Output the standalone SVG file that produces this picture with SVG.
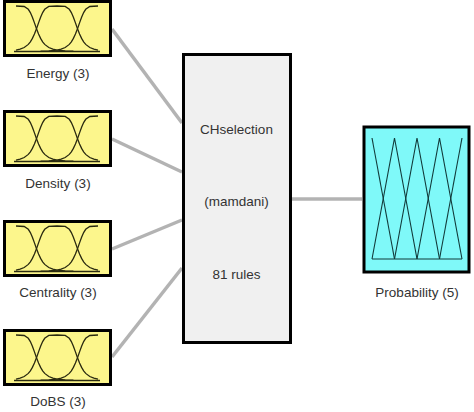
<svg xmlns="http://www.w3.org/2000/svg" width="474" height="412" viewBox="0 0 474 412">
<style>
.box{stroke:#000;stroke-width:3}
.in{fill:#fcf68c}
.mf{fill:none;stroke:#2a2a10;stroke-width:1.3}
.omf{fill:none;stroke:#123a3a;stroke-width:1.1}
.lbl{font-family:"Liberation Sans",Arial,sans-serif;font-size:13.5px;fill:#333;text-anchor:middle}
.conn{stroke:#b3b3b3;stroke-width:3.5;fill:none}
</style>
<defs>
<g id="mf3">
<polyline class="mf" points="16,6 24.2,6.5 28.3,9.3 30.35,12.6 32.4,17.2 34.45,22.9 36.5,28.75 38.55,34.1 40.6,38.4 42.65,41.8 44.7,44.4 48.8,47.5 52.9,49.2 57,50.1 65.2,50.9 73.4,51.2"/>
<polyline class="mf" points="16,50.1 20.1,49.2 24.2,47.5 28.3,44.4 30.35,41.8 32.4,38.4 34.45,34.1 36.5,28.75 38.55,22.9 40.6,17.2 42.65,12.6 44.7,9.3 48.8,6.45 57,6 65.2,6.45 69.3,9.3 71.35,12.6 73.4,17.2 75.45,22.9 77.5,28.75 79.55,34.1 81.6,38.4 83.65,41.8 85.7,44.4 89.8,47.5 93.9,49.2 98,50.1"/>
<polyline class="mf" points="98,6 89.8,6.5 85.7,9.3 83.65,12.6 81.6,17.2 79.55,22.9 77.5,28.75 75.45,34.1 73.4,38.4 71.35,41.8 69.3,44.4 65.2,47.5 61.1,49.2 57,50.1 48.8,50.9 40.6,51.2"/>
<line class="mf" x1="14" y1="51.5" x2="100" y2="51.5"/>
</g>
</defs>
<rect width="474" height="412" fill="#fff"/>
<g id="connectors">
<line class="conn" x1="112" y1="29" x2="182" y2="123"/>
<line class="conn" x1="112" y1="139" x2="182" y2="172"/>
<line class="conn" x1="112" y1="249" x2="182" y2="220"/>
<line class="conn" x1="112" y1="357" x2="182" y2="268"/>
<line class="conn" x1="292" y1="199" x2="362" y2="199"/>
</g>
<g id="energy">
<rect class="box in" x="4.5" y="1.5" width="106" height="54"/>
<use href="#mf3"/>
<text class="lbl" x="58" y="78">Energy (3)</text>
</g>
<g id="density" transform="translate(0,110)">
<rect class="box in" x="4.5" y="1.5" width="106" height="54"/>
<use href="#mf3"/>
<text class="lbl" x="58" y="78">Density (3)</text>
</g>
<g id="centrality" transform="translate(0,220)">
<rect class="box in" x="4.5" y="1.5" width="106" height="54"/>
<use href="#mf3"/>
<text class="lbl" x="58" y="77">Centrality (3)</text>
</g>
<g id="dobs" transform="translate(0,329)">
<rect class="box in" x="4.5" y="1.5" width="106" height="54"/>
<use href="#mf3"/>
<text class="lbl" x="58" y="77">DoBS (3)</text>
</g>
<g id="chselection">
<rect class="box" x="183.5" y="54.5" width="107" height="288" fill="#f0f0f0"/>
<text class="lbl" x="236.5" y="134">CHselection</text>
<text class="lbl" x="236.5" y="206">(mamdani)</text>
<text class="lbl" x="236.5" y="279">81 rules</text>
</g>
<g id="probability">
<rect class="box" x="364" y="127" width="105" height="145" fill="#7ff9f9"/>
<polyline class="omf" points="372,138 394.5,259"/>
<polyline class="omf" points="372,259 394.5,138 417,259"/>
<polyline class="omf" points="394.5,259 417,138 439.5,259"/>
<polyline class="omf" points="417,259 439.5,138 462,259"/>
<polyline class="omf" points="439.5,259 462,138"/>
<line class="omf" x1="372" y1="259" x2="462" y2="259"/>
<text class="lbl" x="417" y="297">Probability (5)</text>
</g>
</svg>
